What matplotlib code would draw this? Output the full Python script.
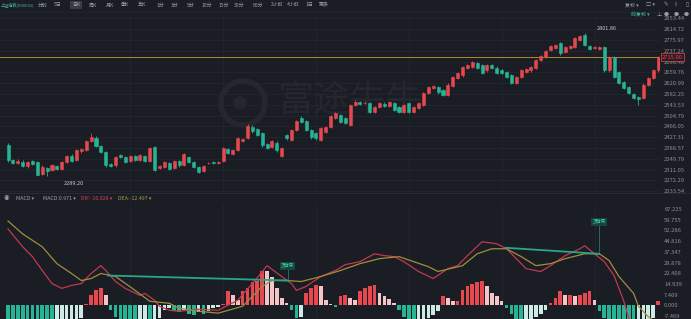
import matplotlib
matplotlib.use("Agg")
import matplotlib.pyplot as plt
import numpy as np
from matplotlib.patches import Circle

plt.rcParams["font.family"] = ["Noto Sans CJK SC", "DejaVu Sans"]

# 日K 数据 (从截图读取的近似值)
opens = [2399, 2345, 2335, 2338, 2324, 2342, 2338, 2296, 2317, 2310,
         2324, 2313, 2338, 2360, 2345, 2378, 2381, 2414, 2424, 2396,
         2374, 2331, 2327, 2362, 2356, 2342, 2360, 2345, 2360, 2342,
         2392, 2317, 2321, 2335, 2317, 2342, 2327, 2356, 2338, 2321,
         2306, 2335, 2338, 2336, 2342, 2385, 2367, 2381, 2414, 2424,
         2464, 2457, 2442, 2403, 2392, 2407, 2360, 2435, 2417, 2453,
         2496, 2485, 2453, 2442, 2417, 2446, 2464, 2496, 2507, 2496,
         2471, 2543, 2554, 2550, 2550, 2518, 2536, 2547, 2540, 2550,
         2536, 2518, 2550, 2518, 2532, 2543, 2586, 2604, 2607, 2597,
         2579, 2611, 2640, 2650, 2676, 2679, 2693, 2686, 2668, 2686,
         2676, 2668, 2661, 2650, 2622, 2643, 2661, 2668, 2676, 2704,
         2715, 2740, 2747, 2765, 2733, 2747, 2751, 2776, 2794, 2754,
         2747, 2744, 2751, 2668, 2715, 2661, 2625, 2607, 2582, 2571,
         2568, 2615, 2640, 2668]
closes = [2345, 2335, 2342, 2324, 2338, 2331, 2292, 2321, 2306, 2327,
          2313, 2338, 2360, 2342, 2381, 2385, 2414, 2428, 2396, 2374,
          2327, 2324, 2356, 2356, 2338, 2360, 2345, 2363, 2342, 2389,
          2310, 2324, 2338, 2313, 2342, 2327, 2367, 2338, 2321, 2303,
          2324, 2336, 2336, 2338, 2389, 2371, 2381, 2424, 2421, 2467,
          2449, 2435, 2399, 2389, 2414, 2381, 2389, 2424, 2453, 2485,
          2482, 2453, 2428, 2424, 2460, 2464, 2503, 2514, 2482, 2478,
          2543, 2554, 2547, 2551, 2518, 2536, 2550, 2540, 2554, 2525,
          2518, 2543, 2518, 2536, 2550, 2586, 2607, 2611, 2589, 2579,
          2615, 2643, 2658, 2679, 2686, 2697, 2676, 2658, 2686, 2676,
          2658, 2658, 2643, 2622, 2643, 2668, 2672, 2679, 2704, 2718,
          2736, 2754, 2758, 2729, 2751, 2754, 2783, 2790, 2758, 2744,
          2751, 2751, 2668, 2715, 2643, 2622, 2604, 2586, 2568, 2564,
          2615, 2640, 2668, 2715]
highs = [2405, 2350, 2348, 2344, 2342, 2346, 2342, 2326, 2322, 2331,
         2328, 2342, 2364, 2366, 2385, 2390, 2418, 2442, 2430, 2400,
         2378, 2336, 2360, 2366, 2361, 2365, 2364, 2368, 2364, 2394,
         2396, 2329, 2343, 2340, 2347, 2346, 2372, 2361, 2342, 2325,
         2329, 2340, 2342, 2342, 2394, 2390, 2386, 2429, 2426, 2476,
         2470, 2462, 2446, 2408, 2419, 2412, 2394, 2440, 2458, 2490,
         2502, 2490, 2458, 2447, 2465, 2469, 2508, 2519, 2512, 2501,
         2548, 2560, 2559, 2556, 2555, 2541, 2555, 2552, 2559, 2555,
         2541, 2548, 2555, 2541, 2555, 2591, 2612, 2616, 2612, 2602,
         2620, 2648, 2663, 2684, 2691, 2702, 2698, 2691, 2691, 2691,
         2681, 2673, 2666, 2655, 2648, 2673, 2677, 2684, 2709, 2723,
         2741, 2759, 2763, 2770, 2756, 2759, 2788, 2795, 2801.86, 2759,
         2756, 2756, 2756, 2720, 2720, 2666, 2630, 2612, 2587, 2576,
         2620, 2645, 2673, 2720]
lows = [2340, 2330, 2331, 2320, 2318, 2327, 2290, 2293, 2289.20, 2305,
        2309, 2310, 2334, 2338, 2341, 2372, 2377, 2410, 2392, 2370,
        2322, 2319, 2322, 2352, 2334, 2338, 2341, 2341, 2337, 2338,
        2305, 2312, 2316, 2309, 2313, 2322, 2323, 2334, 2317, 2298,
        2301, 2331, 2332, 2332, 2338, 2366, 2362, 2377, 2409, 2420,
        2444, 2430, 2394, 2384, 2388, 2376, 2355, 2419, 2412, 2449,
        2477, 2448, 2422, 2419, 2412, 2441, 2460, 2491, 2477, 2473,
        2466, 2538, 2542, 2545, 2513, 2513, 2531, 2535, 2535, 2520,
        2513, 2513, 2513, 2513, 2527, 2538, 2581, 2599, 2584, 2574,
        2574, 2606, 2635, 2645, 2671, 2674, 2671, 2653, 2663, 2671,
        2653, 2653, 2638, 2617, 2617, 2638, 2656, 2663, 2671, 2699,
        2710, 2735, 2742, 2724, 2728, 2742, 2746, 2771, 2753, 2739,
        2742, 2739, 2663, 2660, 2638, 2617, 2599, 2581, 2563, 2543,
        2563, 2610, 2635, 2663]

price_ticks = [2853.44, 2814.72, 2775.97, 2737.24, 2698.48, 2659.76, 2620.99,
               2582.25, 2543.53, 2504.79, 2466.05, 2427.31, 2388.57, 2349.79,
               2311.05, 2272.29, 2233.54]

# MACD
macd_hist = [-12, -14, -17, -19, -22, -25, -28, -30, -31, -32,
             -30, -27, -23, -18, -13, -9, 1.0, 7.0, 10.5, 12.0,
             7.0, -3, -8, -11, -13, -14, -15, -14, -12, -13,
             -11, -9, -3, -2, -4, -5, -3, -6, -7, -5,
             -6, -4, -2, -1, 1.0, 9.7, 6.9, 3.5, 9.7, 11.8,
             16.6, 17.3, 24.3, 24.0, 20.1, 11.8, 4.9, 1.4, -3, -9,
             -8, 8.3, 11.8, 13.9, 13.2, 3.5, 1.0, -1, 6.2, 6.9,
             4.9, 3.5, 9.7, 11.8, 13.2, 14.0, 8.3, 6.2, 4.5, 1.5,
             -3, -8, -10, -12, -11, -10, -9, -7, -4, 6.2,
             4.9, 2.8, 3.2, 10.4, 13.2, 15.2, 16.6, 17.3, 13.2, 8.3,
             6.2, 2.8, -2, -6, -10, -12, -11, -10, -8, -6,
             -3, 1.4, 4.9, 9.7, 6.9, 6.9, 6.2, 6.9, 8.3, 9.7,
             3.5, -4, -9, -14, -20, -25, -30, -32, -33, -31,
             -22, -15, -9, 3]
dif_idx = [0, 3, 5, 7, 9, 11, 13, 15, 17, 19, 20, 22, 24, 27, 28, 30, 31, 33, 35, 39,
           43, 47, 50, 53, 56, 58, 59, 61, 64, 67, 69, 72, 75, 77, 79, 81, 84, 87, 90, 92,
           94, 97, 100, 102, 104, 106, 109, 111, 114, 117, 118, 120, 122, 124, 126, 127,
           129, 131, 133]
dif_val = [53.4, 40.9, 34.0, 24.3, 15.2, 11.8, 13.9, 15.2, 22.2, 27.7, 24.3, 16.6, 11.8,
           6.9, 8.3, 3.5, -0.7, -3.5, -4.2, -2.8, -3.5, 3.5, 15.2, 27.7, 20.1, 15.2, 10.4,
           13.2, 20.1, 24.3, 28.4, 30.5, 36.0, 34.7, 34.0, 30.5, 23.6, 18.7, 25.6, 27.7,
           34.7, 44.4, 43.0, 39.5, 32.6, 25.6, 23.6, 27.7, 34.7, 39.5, 41.6, 36.0, 30.5,
           20.8, 2.8, -9.0, -18, -16, -10]
dea_idx = [0, 3, 7, 10, 13, 15, 17, 19, 22, 26, 29, 33, 35, 39, 43, 48, 52, 54, 57, 60,
           64, 68, 72, 76, 80, 83, 86, 88, 93, 96, 99, 102, 105, 108, 111, 114, 118, 121,
           123, 125, 128, 129, 131, 133]
dea_val = [58.9, 49.9, 40.9, 29.1, 22.2, 17.3, 18.7, 22.2, 20.1, 10.4, 2.8, 1.4, -2.1,
           -4.2, -5.5, -0.7, 13.2, 17.3, 17.3, 16.6, 20.1, 24.3, 29.1, 32.6, 34.0, 30.5,
           27.0, 23.6, 27.7, 36.0, 39.5, 39.5, 34.0, 27.7, 29.1, 32.6, 36.0, 36.0, 31.2,
           20.1, 8.3, -0.7, -8.0, -12.5]
macd_ticks = [67.225, 59.755, 52.286, 44.816, 37.347, 29.878, 22.408, 14.939, 7.469, 0.000, -7.469]

# 背离线
div_x = [[20.5, 57.2], [101.8, 120.9]]
div_y = [[20.8, 17.3], [40.2, 36.0]]
div_label_y = [27.7, 58.2]

tabs = ["分时", "5日", "日K", "周K", "月K", "季K", "年K", "1分", "3分", "5分",
        "10分", "15分", "30分", "60分", "2小时", "4小时", "1日", "更多"]

BG = "#1b1d25"
RED = "#e5484f"
GREEN = "#27b495"
GRID = "#252831"
TXT = "#8b8e98"

W, H = 691, 319
fx = lambda px: px / W
fy = lambda py: 1 - py / H

fig = plt.figure(figsize=(6.91, 3.19), dpi=100, facecolor=BG)

# 水印
fig.text(fx(277), fy(101), "富途牛牛", fontsize=26, color="#24272f", va="center",
         ha="left", zorder=-1)
fig.add_artist(Circle((2.43, (H - 103) / 100), 0.22, transform=fig.dpi_scale_trans,
                      fill=False, lw=4, color="#24272f", zorder=-1))
fig.add_artist(Circle((2.40, (H - 103) / 100), 0.06, transform=fig.dpi_scale_trans,
                      color="#24272f", zorder=-1))

# K线图
ax = fig.add_axes([0, fy(192), fx(660), (192 - 15) / H])
ax.set_facecolor("none")
o = np.array(opens, float)
c = np.array(closes, float)
x = np.arange(len(o))
cols = [RED if cc >= oo else GREEN for oo, cc in zip(o, c)]
ax.vlines(x, lows, highs, colors=cols, lw=0.6, zorder=2)
ax.bar(x, np.abs(c - o), bottom=np.minimum(o, c), width=0.62, color=cols,
       edgecolor=cols, linewidth=0.4, zorder=3)
ax.set_xlim(-1.64, 133.4)
ax.set_ylim(2230.8, 2865.7)
ax.yaxis.tick_right()
ax.set_yticks(price_ticks)
ax.set_yticklabels([f"{t:.2f}" for t in price_ticks])
ax.tick_params(axis="y", length=0, pad=3, labelsize=4.2, labelcolor=TXT)
ax.set_xticks([])
for t in price_ticks:
    ax.axhline(t, color=GRID, lw=0.5, zorder=0)
for v in [25, 44, 63, 82, 101, 120]:
    ax.axvline(v, color=GRID, lw=0.5, zorder=0)
for s in ax.spines.values():
    s.set_visible(False)

last = closes[-1]
ax.axhline(last, color="#b7862e", lw=0.7, zorder=1)
ax.text(1.003, last, f"{last:.2f}", transform=ax.get_yaxis_transform(), fontsize=4.2,
        color=RED, va="center", ha="left", clip_on=False,
        bbox=dict(boxstyle="square,pad=0.25", fc="#2a1c22", ec=RED, lw=0.5))
ax.text(122.5, 2819, f"{max(highs):.2f}", fontsize=4, color="#c9c9c9", ha="center", va="center")
ax.text(13.5, 2262, f"{min(lows):.2f}", fontsize=4, color="#c9c9c9", ha="center", va="center")

# MACD 图
ax2 = fig.add_axes([0, 0, fx(660), (319 - 203) / H])
ax2.set_facecolor("none")
hcols = []
for k, v in enumerate(macd_hist):
    prev = macd_hist[k - 1] if k > 0 else v
    if v >= 0:
        hcols.append(RED if v >= prev else "#f3c4c8")
    else:
        hcols.append(GREEN if v <= prev else "#cdebe4")
ax2.bar(np.arange(len(macd_hist)), macd_hist, width=0.75, color=hcols, zorder=2)
ax2.plot(dif_idx, dif_val, color="#c0394f", lw=0.9, zorder=3)
ax2.plot(dea_idx, dea_val, color="#a08d3c", lw=0.9, zorder=3)
for xs, ys, ly in zip(div_x, div_y, div_label_y):
    ax2.plot(xs, ys, color="#2aa58a", lw=1.3, zorder=4)
    ax2.plot([xs[1], xs[1]], [ys[1], ly - 1.5], color="#2aa58a", lw=0.4, zorder=4)
    ax2.text(xs[1], ly, "顶背离", fontsize=3.2, color="#3fd0a8", ha="center", va="center",
             bbox=dict(boxstyle="square,pad=0.3", fc="#17463d", ec="none"), zorder=5)
ax2.set_xlim(-1.64, 133.4)
ax2.set_ylim(-9.6, 71.5)
ax2.yaxis.tick_right()
ax2.set_yticks(macd_ticks)
ax2.set_yticklabels([f"{t:.3f}" for t in macd_ticks])
ax2.tick_params(axis="y", length=0, pad=3, labelsize=4.2, labelcolor=TXT)
ax2.set_xticks([])
for v in [25, 44, 63, 82, 101, 120]:
    ax2.axvline(v, color=GRID, lw=0.5, zorder=0)
for s in ax2.spines.values():
    s.set_visible(False)

# 分隔线
fig.add_artist(plt.Line2D([0, 1], [fy(193), fy(193)], color="#2b2e38", lw=0.6))
fig.add_artist(plt.Line2D([0, 1], [fy(12), fy(12)], color="#23262e", lw=0.5))

# 顶部工具栏
fig.text(fx(1), fy(5), "上证指数(000001)", fontsize=3.0, color="#3fbf9f", va="center")
tab_x = [43, 58, 76, 93, 110, 125, 142, 160, 175, 191, 207, 224, 239, 258, 277, 293, 309, 324]
for tx, name in zip(tab_x, tabs):
    kw = dict(boxstyle="square,pad=0.35", fc="#3a3d47", ec="none") if name == "日K" else None
    fig.text(fx(tx), fy(5), name, fontsize=3.6, color="#9a9da6", va="center", ha="center",
             bbox=kw)
fig.text(fx(625), fy(5), "复权 ▾", fontsize=3.6, color="#9a9da6", va="center")
fig.text(fx(646), fy(5), "□ ▾", fontsize=3.8, color="#9a9da6", va="center")
fig.text(fx(664), fy(5), "✎", fontsize=4, color="#9a9da6", va="center")
fig.text(fx(674), fy(5), "⁞⁞", fontsize=4, color="#9a9da6", va="center")
fig.text(fx(685), fy(5), "▯", fontsize=4, color="#9a9da6", va="center")
fig.text(fx(631), fy(15), "前复权 ▾", fontsize=3.6, color="#3fbf9f", va="center")
fig.text(fx(656), fy(15), "⊥", fontsize=3.8, color="#9a9da6", va="center")
for px in [666, 676, 686]:
    fig.text(fx(px), fy(15), "●", fontsize=3.6, color="#9a9da6", va="center", ha="center")

# MACD 标题
fig.text(fx(4), fy(198), "◉", fontsize=4, color="#9a9da6", va="center")
fig.text(fx(16), fy(198), "MACD ▾", fontsize=3.8, color="#9a9da6", va="center")
fig.text(fx(43), fy(198), "MACD:0.971 ▾", fontsize=3.8, color="#9a9da6", va="center")
fig.text(fx(81), fy(198), "DIF:-10.028 ▾", fontsize=3.8, color="#d9434f", va="center")
fig.text(fx(118), fy(198), "DEA:-12.497 ▾", fontsize=3.8, color="#b09a45", va="center")

fig.savefig("out.png", dpi=100, facecolor=BG)
